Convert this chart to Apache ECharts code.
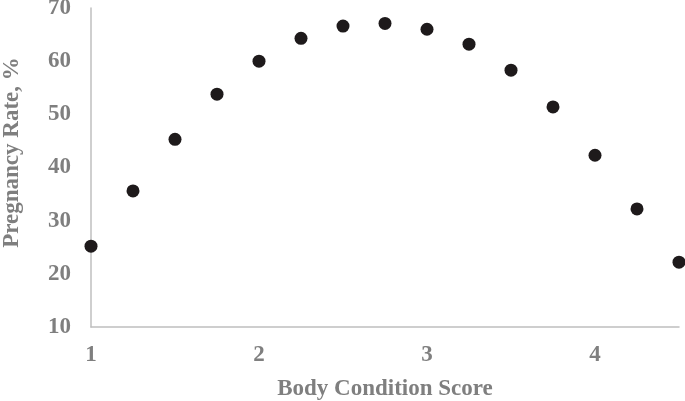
<!DOCTYPE html>
<html>
<head>
<meta charset="utf-8">
<script src="https://cdn.jsdelivr.net/npm/echarts@6/dist/echarts.min.js"></script>
<style>
  html, body { margin: 0; padding: 0; background: #fff; }
  #chart { width: 685px; height: 401px; }
</style>
</head>
<body>
<div id="chart"></div>
<script>
// body condition score vs pregnancy rate
var bcs = [1, 1.25, 1.5, 1.75, 2, 2.25, 2.5, 2.75, 3, 3.25, 3.5, 3.75, 4, 4.25, 4.5];
var pregRate = [25.2, 35.6, 45.3, 53.8, 60, 64.3, 66.6, 67.1, 66, 63.2, 58.3, 51.4, 42.3, 32.2, 22.2];

var points = bcs.map(function (x, i) { return [x, pregRate[i]]; });

var mychart = echarts.init(document.getElementById("chart"));
var labelFont = {
  fontFamily: "Liberation Serif",
  fontWeight: "bold",
  fontSize: 23,
  color: "#7f7f7f"
};
var option = {
  animation: false,
  grid: { left: 91, right: 6, top: 8, bottom: 74, outerBoundsMode: "none" },
  xAxis: {
    type: "value",
    min: 1,
    max: 4.5,
    interval: 1,
    name: "Body Condition Score",
    nameLocation: "middle",
    nameGap: 51,
    nameTextStyle: labelFont,
    axisLine: { lineStyle: { color: "#bfbfbf", width: 1.5 } },
    axisTick: { show: false },
    splitLine: { show: false },
    axisLabel: Object.assign({ margin: 17, showMaxLabel: false }, labelFont)
  },
  yAxis: {
    type: "value",
    min: 10,
    max: 70,
    interval: 10,
    name: "Pregnancy Rate, %",
    nameLocation: "middle",
    nameGap: 67,
    // title sits a little above the middle of the axis
    nameTextStyle: Object.assign({ padding: [0, 0, 0, 30] }, labelFont),
    axisLine: { show: true, lineStyle: { color: "#bfbfbf", width: 1.5 } },
    axisTick: { show: false },
    splitLine: { show: false },
    axisLabel: Object.assign({ margin: 20 }, labelFont)
  },
  series: [{
    type: "scatter",
    data: points,
    symbolSize: 13,
    itemStyle: { color: "#1e1a1b", opacity: 1 }
  }]
};
mychart.setOption(option);
</script>
</body>
</html>
